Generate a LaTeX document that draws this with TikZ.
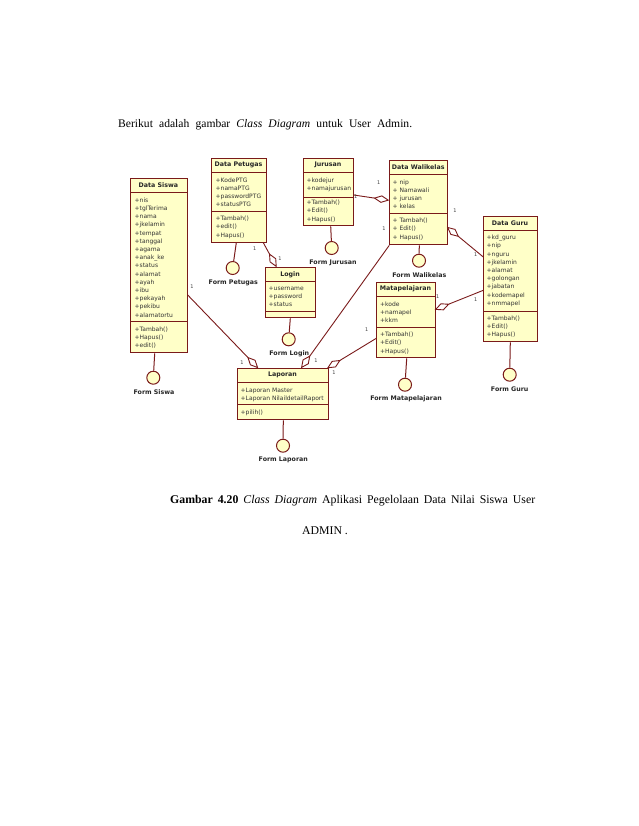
\documentclass[tikz,border=0pt]{standalone}
\usepackage{fontspec}
\setmainfont{Liberation Serif}
\newfontfamily\umlfont{DejaVu Sans}
\usetikzlibrary{arrows.meta,calc}
\definecolor{umlline}{HTML}{7A1A1A}
\definecolor{umlfill}{HTML}{FFFFC8}
\tikzset{
  x=1pt,y=-1pt,
  classbox/.style={draw=umlline,fill=umlfill,line width=1pt,rectangle,inner sep=0pt,anchor=north west},
  sepline/.style={draw=umlline,line width=1pt},
  classtitle/.style={font=\umlfont\bfseries\fontsize{6.3}{7}\selectfont,inner sep=0pt,text=black!85},
  members/.style={font=\umlfont\fontsize{6}{8.2}\selectfont,inner sep=0pt,align=left,anchor=north west,text=black!80},
  assoc/.style={draw=umlline,line width=0.9pt},
  aggr/.style={assoc,-{Diamond[open,length=16pt,width=7.5pt,fill=white,line width=0.9pt]}},
  boundary/.style={circle,draw=umlline,fill=umlfill,line width=1pt,minimum size=13pt,inner sep=0pt},
  stem/.style={draw=umlline,line width=1pt},
  formlabel/.style={font=\umlfont\bfseries\fontsize{6.3}{7}\selectfont,inner sep=0pt,text=black!85},
  mult/.style={font=\umlfont\fontsize{5}{6}\selectfont,inner sep=0pt,text=black!75},
  para/.style={inner sep=0pt,anchor=base west,font=\fontsize{11.6}{14}\selectfont}
}
\newcommand{\umlclass}[9]{%
  \node[classbox,minimum width=#4-#2,minimum height=#5-#3] (#1) at (#2,#3) {};
  \draw[sepline] (#2,#6) -- (#4,#6);
  \draw[sepline] (#2,#7) -- (#4,#7);
  \node[classtitle] (#1-title) at ({(#2+#4)/2},{(#3+#6)/2}) {#8};
  #9
}
\begin{document}
\begin{tikzpicture}
\useasboundingbox (0,0) rectangle (638,826);
\fill[white] (0,0) rectangle (638,826);

\node[para] (intro) at (118,128) {\makebox[294pt][s]{Berikut adalah gambar \textit{Class Diagram} untuk User Admin.}};
\node[para,font=\fontsize{11.8}{14}\selectfont] (capa) at (170,503) {\makebox[365pt][s]{\textbf{Gambar 4.20} \textit{Class Diagram} Aplikasi Pegelolaan Data Nilai Siswa User}};
\node[para,font=\fontsize{11.8}{14}\selectfont,anchor=base] (capb) at (325,534) {ADMIN .};

\umlclass{siswa}{130}{178.3}{186.7}{352.3}{192.3}{321.7}{Data Siswa}{
  \node[members] (siswa-a) at (134.5,197.5) {+nis\\+tglTerima\\+nama\\+jkelamin\\+tempat\\+tanggal\\+agama\\+anak\_ke\\+status\\+alamat\\+ayah\\+ibu\\+pekayah\\+pekibu\\+alamatortu};
  \node[members] (siswa-m) at (134.5,326.5) {+Tambah()\\+Hapus()\\+edit()};}
\umlclass{petugas}{211.3}{158.3}{265.7}{241.7}{172.3}{211.3}{Data Petugas}{
  \node[members] (petugas-a) at (215.5,177.5) {+KodePTG\\+namaPTG\\+passwordPTG\\+statusPTG};
  \node[members] (petugas-m) at (215.5,216) {+Tambah()\\+edit()\\+Hapus()};}
\umlclass{jurusan}{303.3}{158.3}{352.7}{225.3}{172.3}{197.7}{Jurusan}{
  \node[members] (jurusan-a) at (306.5,177.5) {+kodejur\\+namajurusan};
  \node[members] (jurusan-m) at (306.5,200) {+Tambah()\\+Edit()\\+Hapus()};}
\umlclass{wali}{389.3}{160.3}{447.3}{244.3}{174.3}{213.3}{Data Walikelas}{
  \node[members] (wali-a) at (392.5,179.5) {+ nip\\+ Namawali\\+ jurusan\\+ kelas};
  \node[members] (wali-m) at (392.5,218) {+ Tambah()\\+ Edit()\\+ Hapus()};}
\umlclass{guru}{483.3}{216}{536.7}{341.3}{230}{311}{Data Guru}{
  \node[members] (guru-a) at (486.5,235) {+kd\_guru\\+nip\\+nguru\\+jkelamin\\+alamat\\+golongan\\+jabatan\\+kodemapel\\+nmmapel};
  \node[members] (guru-m) at (486.5,315.5) {+Tambah()\\+Edit()\\+Hapus()};}
\umlclass{login}{265.3}{267.3}{314.7}{317.3}{281.7}{311.3}{Login}{
  \node[members] (login-a) at (268.5,286.5) {+username\\+password\\+status};}
\umlclass{mapel}{376.3}{282.3}{434.7}{357.3}{296}{327.7}{Matapelajaran}{
  \node[members] (mapel-a) at (380,301.5) {+kode\\+namapel\\+kkm};
  \node[members] (mapel-m) at (380,332) {+Tambah()\\+Edit()\\+Hapus()};}
\umlclass{laporan}{237.3}{368.3}{327.7}{419.3}{382.3}{404.3}{Laporan}{
  \node[members] (laporan-a) at (240.5,387.5) {+Laporan Master\\+Laporan NilaildetailRaport};
  \node[members] (laporan-m) at (240.5,409.5) {+pilih()};}

\draw[aggr] ($(siswa.north east)+(0,116.7)$) -- ($(laporan.north west)+(21,0)$);
\draw[aggr] ($(petugas.south east)+(-3.4,0)$) -- ($(login.north west)+(11.4,0)$);
\draw[aggr] ($(jurusan.north east)+(0,36.7)$) -- ($(wali.north west)+(0,40)$);
\draw[aggr] (wali.south west) -- ($(laporan.north west)+(63.7,0)$);
\draw[aggr] ($(guru.north west)+(0,41)$) -- ($(wali.north east)+(-1.5,66.5)$);
\draw[aggr] ($(guru.north west)+(0,74.3)$) -- ($(mapel.north east)+(-1,27.5)$);
\draw[aggr] ($(mapel.north west)+(0,56)$) -- ($(laporan.north east)+(-1.7,0)$);

\node[boundary] (fsiswa) at (153.3,377.7) {};
\node[boundary] (fpetugas) at (232.7,268) {};
\node[boundary] (flogin) at (288.7,339.3) {};
\node[boundary] (fjurusan) at (331.7,248) {};
\node[boundary] (fwali) at (419,260.7) {};
\node[boundary] (fmapel) at (405,384.7) {};
\node[boundary] (fguru) at (509.7,374.7) {};
\node[boundary] (flaporan) at (283,445.7) {};
\draw[stem] ($(siswa.south west)+(24.7,0)$) -- (fsiswa);
\draw[stem] ($(petugas.south west)+(25,0)$) -- (fpetugas);
\draw[stem] ($(login.south west)+(25,0)$) -- (flogin);
\draw[stem] ($(jurusan.south west)+(27.4,0)$) -- (fjurusan);
\draw[stem] ($(wali.south west)+(30,0)$) -- (fwali);
\draw[stem] ($(mapel.south west)+(30.4,0)$) -- (fmapel);
\draw[stem] ($(guru.south west)+(27,0)$) -- (fguru);
\draw[stem] ($(laporan.south west)+(46,0)$) -- (flaporan);

\node[formlabel] (lsiswa) at (154,392) {Form Siswa};
\node[formlabel] (lpetugas) at (233.3,283) {Form Petugas};
\node[formlabel] (llogin) at (289.3,354) {Form Login};
\node[formlabel] (ljurusan) at (333,263) {Form Jurusan};
\node[formlabel] (lwali) at (419.3,275) {Form Walikelas};
\node[formlabel] (lmapel) at (406,399) {Form Matapelajaran};
\node[formlabel] (lguru) at (509.7,389) {Form Guru};
\node[formlabel] (llaporan) at (283.3,460) {Form Laporan};

\node[mult] (m1) at (254.7,249) {1};
\node[mult] (m2) at (280,259) {1};
\node[mult] (m3) at (192,287) {1};
\node[mult] (m4) at (242,363) {1};
\node[mult] (m5) at (316,360.7) {1};
\node[mult] (m6) at (378.7,183) {1};
\node[mult] (m7) at (355.7,196.3) {1};
\node[mult] (m8) at (384,229) {1};
\node[mult] (m9) at (455,211) {1};
\node[mult] (m10) at (475.7,254.3) {1};
\node[mult] (m11) at (437.7,297) {1};
\node[mult] (m12) at (475.7,300) {1};
\node[mult] (m13) at (366.7,330) {1};
\node[mult] (m14) at (334,373) {1};
\end{tikzpicture}
\end{document}
